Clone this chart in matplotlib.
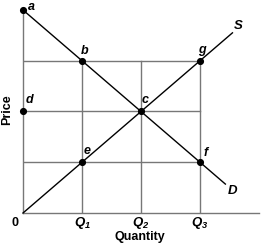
import numpy as np
import matplotlib.pyplot as plt

plt.rcParams['font.family'] = ['Liberation Sans', 'DejaVu Sans']
plt.rcParams['mathtext.fontset'] = 'custom'
plt.rcParams['mathtext.it'] = 'Liberation Sans:italic:bold'
plt.rcParams['mathtext.rm'] = 'Liberation Sans:italic:bold'

# price / quantity levels of the diagram
q_levels = [1, 2, 3]
p_levels = [1, 2, 3]
q_labels = ['$Q_{1}$', '$Q_{2}$', '$Q_{3}$']

demand_q = [0, 3.43]
demand_p = [4, 0.57]
supply_q = [0, 3.55]
supply_p = [0, 3.55]

point_names = ['a', 'b', 'c', 'd', 'e', 'f', 'g']
point_q = [0, 1, 2, 0, 1, 3, 3]
point_p = [4, 3, 2, 2, 1, 1, 3]
# label offsets in points
label_dx = [6, 2, 3, 5, 4, 4, 1]
label_dy = [2, 7, 8, 8, 8, 7, 8]

W, H = 265, 247
fig = plt.figure(figsize=(W / 100, H / 100), dpi=100)
ax = fig.add_axes([23 / W, (H - 213) / H, 236 / W, 203 / H])
ax.set_xlim(0, 4)
ax.set_ylim(0, 4)
ax.axis('off')

grey = '#777777'
# axes
ax.plot([0, 0], [0, 4], color=grey, lw=1, clip_on=False)
ax.plot([0, 4], [0, 0], color=grey, lw=1, clip_on=False)
# grid box
for p in p_levels:
    ax.plot([0, 3], [p, p], color=grey, lw=1)
for q in q_levels:
    ax.plot([q, q], [0, 3], color=grey, lw=1)

ax.plot(demand_q, demand_p, color='black', lw=1, clip_on=False)
ax.plot(supply_q, supply_p, color='black', lw=1, clip_on=False)

ax.scatter(point_q, point_p, s=17, color='black', zorder=5, clip_on=False)
for name, q, p, dx, dy in zip(point_names, point_q, point_p, label_dx, label_dy):
    ax.annotate(name, (q, p), xytext=(dx, dy), textcoords='offset points',
                ha='center', va='center', fontsize=9, fontweight='bold',
                style='italic', annotation_clip=False)

ax.annotate('S', (supply_q[1], supply_p[1]), xytext=(4, 5), textcoords='offset points',
            ha='center', va='center', fontsize=9.5, fontweight='bold', style='italic',
            annotation_clip=False)
ax.annotate('D', (demand_q[1], demand_p[1]), xytext=(5, -5), textcoords='offset points',
            ha='center', va='center', fontsize=9.5, fontweight='bold', style='italic',
            annotation_clip=False)

for q, lab in zip(q_levels, q_labels):
    ax.annotate(lab, (q, 0), xytext=(0, -7), textcoords='offset points',
                ha='center', va='center', fontsize=9.5, annotation_clip=False)
ax.annotate('0', (0, 0), xytext=(-6, -7), textcoords='offset points',
            ha='center', va='center', fontsize=9, fontweight='bold',
            annotation_clip=False)

fig.text(140 / W, 1 - 237 / H, 'Quantity', ha='center', va='center',
         fontsize=9, fontweight='bold')
fig.text(7 / W, 1 - 110 / H, 'Price', ha='center', va='center',
         fontsize=9, fontweight='bold', rotation=90)

fig.savefig('out.png', dpi=100)
